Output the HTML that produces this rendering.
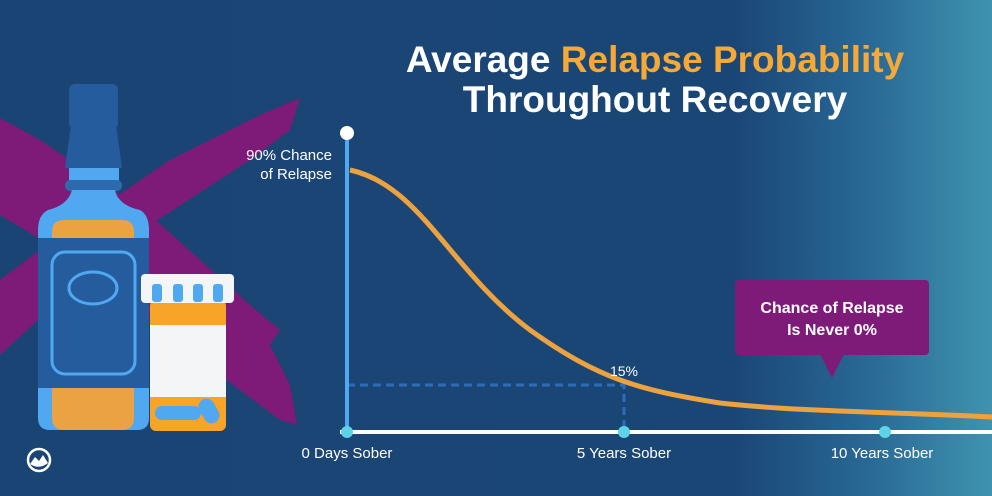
<!DOCTYPE html><html><head><style>body{margin:0}svg{display:block}text{font-family:"Liberation Sans",sans-serif}</style></head><body>
<svg width="992" height="496" viewBox="0 0 992 496" xmlns="http://www.w3.org/2000/svg">
<defs><linearGradient id="bg" x1="0" x2="1" y1="0" y2="0"><stop offset="0" stop-color="#1a4474"/><stop offset="0.74" stop-color="#1a4676"/><stop offset="0.88" stop-color="#2a6a96"/><stop offset="1" stop-color="#3f93b0"/></linearGradient></defs>
<rect width="992" height="496" fill="url(#bg)"/>
<g fill="#7e1a78">
<path d="M0 118 L40 140 L150 215 L250 305 L280 330 L270 345 L290 385 L297 425 L280 420 L200 360 L100 275 L0 215 Z"/>
<path d="M300 98 L290 130 L250 160 L150 225 L60 300 L0 355 L0 280 L60 235 L170 160 L260 115 Z"/>
</g>
<!-- bottle -->
<rect x="69" y="84" width="49" height="45" rx="6" fill="#255c9e"/>
<path d="M71 125 L116 125 L122 168 L65 168 Z" fill="#255c9e"/>
<rect x="69" y="168" width="50" height="14" fill="#4fa8f0"/>
<rect x="65" y="180" width="57" height="11" rx="5" fill="#2e6aae"/>
<path d="M72 190 L115 190 Q118 205 140 210 Q149 215 149 230 L149 418 Q149 430 137 430 L50 430 Q38 430 38 418 L38 230 Q38 215 48 210 Q68 205 72 190 Z" fill="#4fa8f0"/>
<path d="M52 238 L52 232 Q52 220 64 220 L122 220 Q134 220 134 232 L134 238 Z" fill="#eba243"/>
<rect x="38" y="238" width="111" height="150" fill="#255c9e"/>
<rect x="52" y="252" width="83" height="122" rx="13" fill="none" stroke="#4fa8f0" stroke-width="3"/>
<ellipse cx="93" cy="288" rx="24" ry="16" fill="none" stroke="#4fa8f0" stroke-width="3"/>
<path d="M52 388 L134 388 L134 418 Q134 430 122 430 L64 430 Q52 430 52 418 Z" fill="#eba243"/>
<!-- pill bottle -->
<rect x="150" y="300" width="76" height="131" rx="6" fill="#f7a428"/>
<rect x="150" y="325" width="76" height="72" fill="#f4f5f7"/>
<rect x="155" y="406" width="46" height="14" rx="7" fill="#4fa8f0"/>
<rect x="201" y="398" width="16" height="26" rx="8" transform="rotate(-30 209 411)" fill="#4fa8f0"/>
<rect x="141" y="274" width="93" height="29" rx="4" fill="#f4f5f7"/>
<rect x="152" y="284" width="10" height="18" rx="3" fill="#4fa8f0"/><rect x="173" y="284" width="10" height="18" rx="3" fill="#4fa8f0"/><rect x="193" y="284" width="10" height="18" rx="3" fill="#4fa8f0"/><rect x="213" y="284" width="10" height="18" rx="3" fill="#4fa8f0"/>
<circle cx="39" cy="460" r="11" fill="none" stroke="#fff" stroke-width="2.5"/><path d="M30 464 L35 457 L39 461 L43 455 L48 463 Q39 470 30 464Z" fill="#fff"/>
<!-- title -->
<text x="655" y="72" text-anchor="middle" font-size="37" font-weight="bold" fill="#fff">Average <tspan fill="#f7a938">Relapse Probability</tspan></text>
<text x="655" y="112" text-anchor="middle" font-size="37" font-weight="bold" fill="#fff">Throughout Recovery</text>
<!-- chart -->
<path d="M347 385 L624 385 L624 432" fill="none" stroke="#2e6cb8" stroke-width="3" stroke-dasharray="8 5"/>
<line x1="340" y1="432" x2="992" y2="432" stroke="#fff" stroke-width="4"/>
<line x1="347" y1="133" x2="347" y2="432" stroke="#4fa8f0" stroke-width="4"/>
<circle cx="347" cy="133" r="7" fill="#fff"/>
<path d="M350 170 C420 185 450 270 530 330 C600 380 640 390 720 403 C800 412 900 412 992 417" fill="none" stroke="#eca23f" stroke-width="5"/>
<circle cx="347" cy="432" r="6" fill="#5dd3e8"/><circle cx="624" cy="432" r="6" fill="#5dd3e8"/><circle cx="885" cy="432" r="6" fill="#5dd3e8"/>
<text x="332" y="160" text-anchor="end" font-size="15" fill="#fff">90% Chance</text>
<text x="332" y="179" text-anchor="end" font-size="15" fill="#fff">of Relapse</text>
<text x="624" y="376" text-anchor="middle" font-size="14" fill="#fff">15%</text>
<text x="347" y="458" text-anchor="middle" font-size="15" fill="#fff">0 Days Sober</text>
<text x="624" y="458" text-anchor="middle" font-size="15" fill="#fff">5 Years Sober</text>
<text x="882" y="458" text-anchor="middle" font-size="15" fill="#fff">10 Years Sober</text>
<rect x="735" y="280" width="194" height="75" rx="4" fill="#7e1a78"/>
<path d="M820 354 L844 354 L832 378 Z" fill="#7e1a78"/>
<text x="832" y="313" text-anchor="middle" font-size="16" font-weight="bold" fill="#fff">Chance of Relapse</text>
<text x="832" y="335" text-anchor="middle" font-size="16" font-weight="bold" fill="#fff">Is Never 0%</text>
</svg></body></html>
